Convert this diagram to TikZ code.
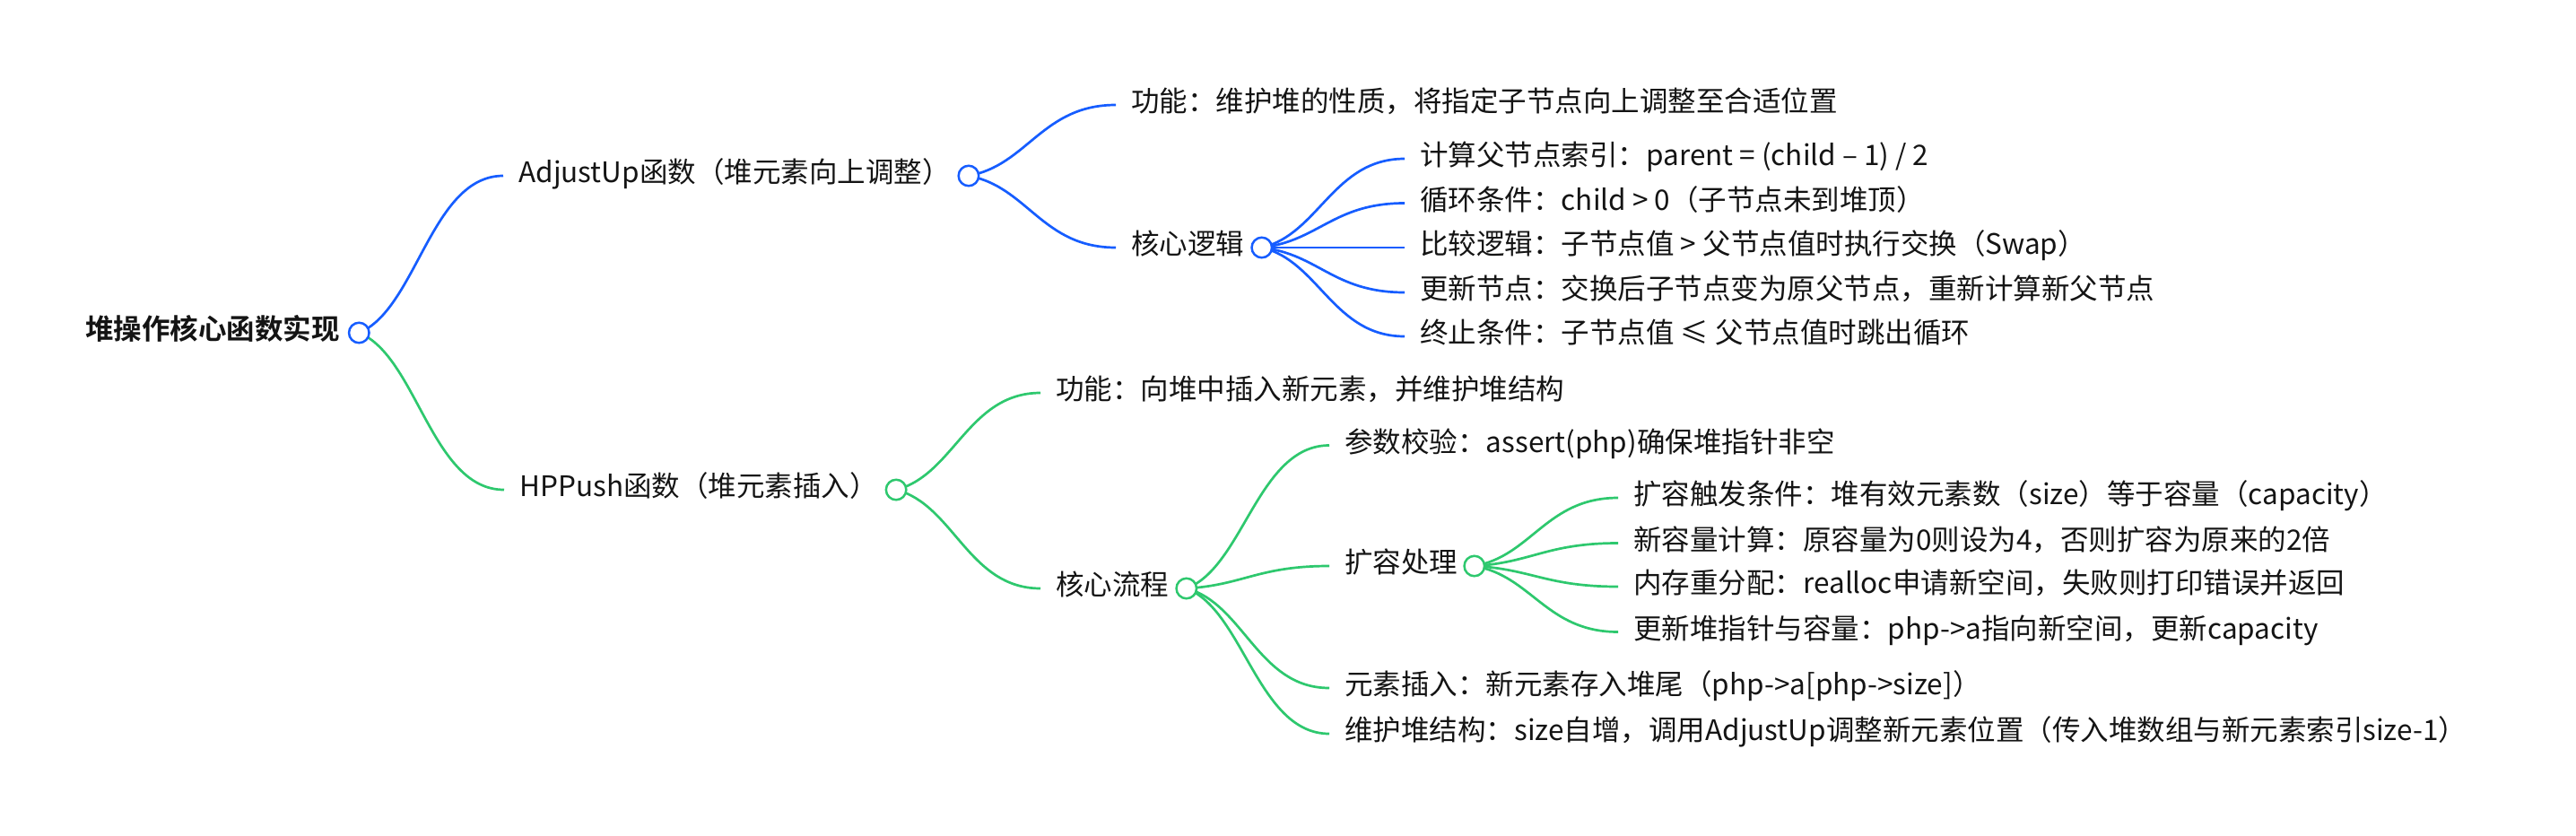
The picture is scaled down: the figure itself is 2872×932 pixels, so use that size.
\documentclass[tikz,border=0pt]{standalone}
\usepackage{fontspec}
\setmainfont{Noto Sans CJK SC}[BoldFont={Noto Sans CJK SC Bold}]
\usetikzlibrary{calc,backgrounds}
\definecolor{mmblue}{RGB}{22,93,255}
\definecolor{mmgreen}{RGB}{46,200,110}
\definecolor{mmtext}{RGB}{20,20,20}
\newcommand\mmlink[3]{\draw[#1] let \p1=(#2), \p2=(#3) in (\p1) .. controls ({\x1+0.4*(\x2-\x1)},{\y1+0.15*(\y2-\y1)}) and ({\x1+0.5*(\x2-\x1)},\y2) .. (\p2);}
\tikzset{
 mmtxt/.style={anchor=west, inner sep=0pt, text height=0.88em, text depth=0.12em, text=mmtext, font=\fontsize{15.75pt}{18pt}\selectfont},
 bl/.style={draw=mmblue, line width=1.35pt},
 gr/.style={draw=mmgreen, line width=1.35pt},
 dotb/.style={circle, draw=mmblue, fill=white, line width=1.25pt, minimum size=11.25pt, inner sep=0pt},
 dotg/.style={circle, draw=mmgreen, fill=white, line width=1.25pt, minimum size=11.25pt, inner sep=0pt},
}
\begin{document}
\begin{tikzpicture}[x=0.5pt,y=-0.5pt]
\useasboundingbox (0,0) rectangle (2872,932);
% root
\node[mmtxt] (r) at (95,371) {\bfseries 堆操作核心函数实现};
\node[dotb] (cr) at ([xshift=10.5pt]r.east) {};
% AdjustUp branch
\node[mmtxt] (a) at (578,196) {AdjustUp函数（堆元素向上调整）};
\node[dotb] (ca) at ([xshift=10pt]a.east) {};
\node[mmtxt] (a1) at (1261,117) {功能：维护堆的性质，将指定子节点向上调整至合适位置};
\node[mmtxt] (a2) at (1261,276) {核心逻辑};
\node[dotb] (ca2) at ([xshift=9.5pt]a2.east) {};
\node[mmtxt] (a21) at (1583,177) {计算父节点索引：parent = (child – 1) / 2};
\node[mmtxt] (a22) at (1583,226.5) {循环条件：child > 0（子节点未到堆顶）};
\node[mmtxt] (a23) at (1583,276) {比较逻辑：子节点值 > 父节点值时执行交换（Swap）};
\node[mmtxt] (a24) at (1583,326) {更新节点：交换后子节点变为原父节点，重新计算新父节点};
\node[mmtxt] (a25) at (1583,375) {终止条件：子节点值 ≤ 父节点值时跳出循环};
% HPPush branch
\node[mmtxt] (h) at (579,546) {HPPush函数（堆元素插入）};
\node[dotg] (ch) at ([xshift=10pt]h.east) {};
\node[mmtxt] (h1) at (1177,438) {功能：向堆中插入新元素，并维护堆结构};
\node[mmtxt] (h2) at (1177,656) {核心流程};
\node[dotg] (ch2) at ([xshift=9.5pt]h2.east) {};
\node[mmtxt] (h21) at (1499,496.5) {参数校验：assert(php)确保堆指针非空};
\node[mmtxt] (h22) at (1499,631) {扩容处理};
\node[dotg] (ch22) at ([xshift=9pt]h22.east) {};
\node[mmtxt] (h221) at (1821,555) {扩容触发条件：堆有效元素数（size）等于容量（capacity）};
\node[mmtxt] (h222) at (1821,605.5) {新容量计算：原容量为0则设为4，否则扩容为原来的2倍};
\node[mmtxt] (h223) at (1821,654) {内存重分配：realloc申请新空间，失败则打印错误并返回};
\node[mmtxt] (h224) at (1821,704.5) {更新堆指针与容量：php->a指向新空间，更新capacity};
\node[mmtxt] (h23) at (1499,767) {元素插入：新元素存入堆尾（php->a[php->size]）};
\node[mmtxt] (h24) at (1499,818) {维护堆结构：size自增，调用AdjustUp调整新元素位置（传入堆数组与新元素索引size-1）};
% edge end points
\foreach \k in {a,a1,a2,a21,a22,a23,a24,a25,h,h1,h2,h21,h22,h221,h222,h223,h224,h23,h24}
  {\coordinate (e\k) at ([xshift=-8.5pt]\k.west);}
\begin{scope}[on background layer]
\mmlink{bl}{cr.center}{ea}
\mmlink{gr}{cr.center}{eh}
\mmlink{bl}{ca.center}{ea1}
\mmlink{bl}{ca.center}{ea2}
\foreach \k in {a21,a22,a23,a24,a25} {\mmlink{bl}{ca2.center}{e\k}}
\mmlink{gr}{ch.center}{eh1}
\mmlink{gr}{ch.center}{eh2}
\foreach \k in {h21,h22,h23,h24} {\mmlink{gr}{ch2.center}{e\k}}
\foreach \k in {h221,h222,h223,h224} {\mmlink{gr}{ch22.center}{e\k}}
\end{scope}
\end{tikzpicture}
\end{document}
